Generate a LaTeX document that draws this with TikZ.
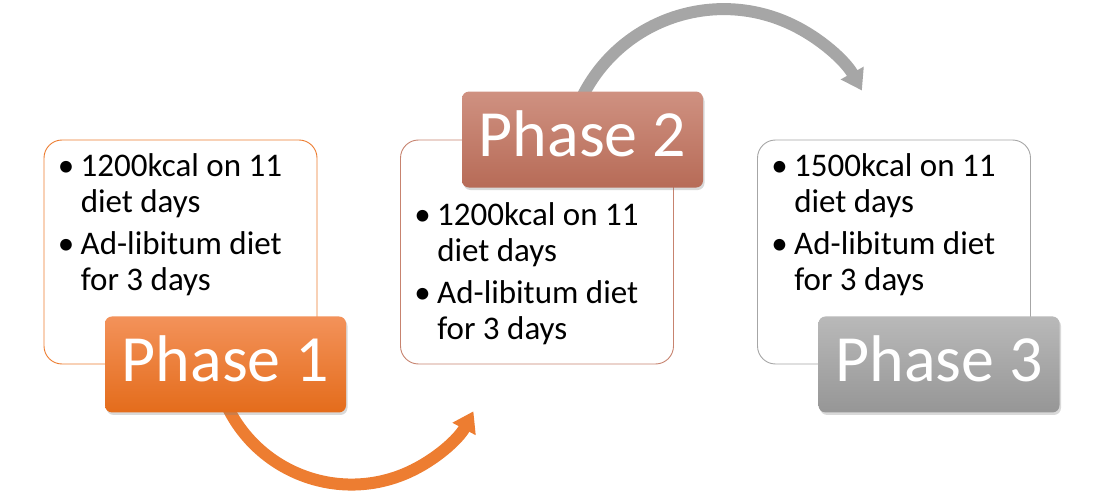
\documentclass[tikz,border=0pt]{standalone}
\usepackage{fontspec}
\setmainfont{Carlito}
\usepackage{xcolor}
\usetikzlibrary{positioning,arrows.meta,shadows,backgrounds}

\definecolor{orangeline}{HTML}{ED7D31}
\definecolor{orangetop}{HTML}{F3925A}
\definecolor{orangebot}{HTML}{E46C1B}
\definecolor{brickline}{HTML}{C7836F}
\definecolor{bricktop}{HTML}{CF9181}
\definecolor{brickbot}{HTML}{B76B57}
\definecolor{greyline}{HTML}{A6A6A6}
\definecolor{greytop}{HTML}{B9B9B9}
\definecolor{greybot}{HTML}{969696}

\newcommand\dietlist[4]{\begin{tabular}[t]{@{}l@{}l@{}}
\makebox[23pt][l]{\textbullet}&#1\\&#2\\[6pt]
\makebox[23pt][l]{\textbullet}&#3\\&#4\end{tabular}}

\tikzset{
  phasebox/.style={draw=#1, line width=.9pt, fill=white, rounded corners=18pt,
    minimum width=273pt, minimum height=224pt, inner sep=0pt},
  phaselabel/.style 2 args={top color=#1, bottom color=#2, draw=none,
    rounded corners=7pt, minimum width=241pt, minimum height=96pt, inner sep=0pt,
    text=white, font=\fontsize{66pt}{70pt}\selectfont, text height=40pt, text depth=6pt,
    drop shadow={opacity=.3, shadow xshift=1.5pt, shadow yshift=-2.5pt}},
  dietitems/.style={inner sep=0pt, anchor=base west, align=left,
    font=\fontsize{33pt}{36pt}\selectfont},
  turnarrow/.style={draw=#1, line width=12pt, -{Triangle[width=25pt,length=20pt]}}
}

\begin{document}
\begin{tikzpicture}[x=1pt,y=1pt]
\useasboundingbox (0,0) rectangle (1104,499);
  \node[phasebox=orangeline] (box1) at (180.5,247) {};
  \node[phasebox=brickline] (box2) at (537,247) {};
  \node[phasebox=greyline] (box3) at (894,247) {};
  \node[dietitems] (list1) at ([shift={(14pt,-37pt)}]box1.north west)
    {\dietlist{1200kcal on 11}{diet days}{Ad-libitum diet}{for 3 days}};
  \node[dietitems] (list2) at ([shift={(14pt,-86pt)}]box2.north west)
    {\dietlist{1200kcal on 11}{diet days}{Ad-libitum diet}{for 3 days}};
  \node[dietitems] (list3) at ([shift={(14pt,-37pt)}]box3.north west)
    {\dietlist{1500kcal on 11}{diet days}{Ad-libitum diet}{for 3 days}};
  \node[phaselabel={orangetop}{orangebot}] (phase1) at ([xshift=45pt]box1.south) {Phase 1};
  \node[phaselabel={bricktop}{brickbot}] (phase2) at ([xshift=45.5pt]box2.north) {Phase 2};
  \node[phaselabel={greytop}{greybot}] (phase3) at ([xshift=45pt]box3.south) {Phase 3};
  \begin{scope}[on background layer]
    \draw[turnarrow=orangeline] ([yshift=10pt]phase1.south)
      arc[start angle=204, end angle=332, radius=138pt];
    \draw[turnarrow=greyline] ([shift={(-2pt,-9pt)}]phase2.north)
      arc[start angle=155, end angle=29, radius=158pt];
  \end{scope}
\end{tikzpicture}
\end{document}
